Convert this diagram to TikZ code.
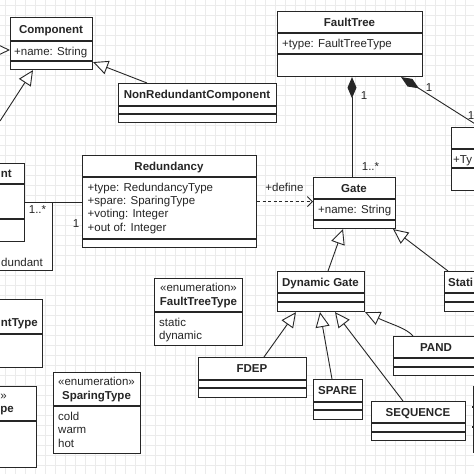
\documentclass[tikz,border=0pt]{standalone}
\usepackage{fontspec}
\setmainfont{Liberation Sans}
\usetikzlibrary{arrows.meta,calc}
\newcommand\fsz{\fontsize{11.5}{13}\selectfont}
\begin{document}
\begin{tikzpicture}[x=1pt,y=-1pt,
  gridline/.style={draw=black!8,line width=0.5pt},
  clsbox/.style={draw=black!85,line width=1.1pt,fill=white,inner sep=0,anchor=north west},
  divline/.style={draw=black!85,line width=1.1pt},
  txt/.style={inner sep=0,font=\fsz,anchor=base,text=black!85},
  txtw/.style={txt,anchor=base west},
  txte/.style={txt,anchor=base east},
  btxt/.style={txt,font=\fsz\bfseries},
  btxte/.style={btxte0,anchor=base east},
  btxte0/.style={inner sep=0,font=\fsz\bfseries,text=black!85},
  btxtw/.style={btxte0,anchor=base west},
  genarrow/.style={draw=black!85,line width=0.9pt,-{Triangle[length=15pt,width=14pt,fill=white]}},
  comparrow/.style={draw=black!85,line width=0.9pt,-{Diamond[length=21pt,width=9pt]}},
  deparrow/.style={draw=black!85,line width=0.9pt,dash pattern=on 3pt off 2.5pt,-{Straight Barb[length=5pt,width=10pt]}},
  assoc/.style={draw=black!85,line width=0.9pt}
]
\useasboundingbox (0,0) rectangle (474,474);
\clip (0,0) rectangle (474,474);
\fill[white] (0,0) rectangle (474,474);
\foreach \g in {5,15,...,475} {
  \draw[gridline] (\g,0) -- (\g,474);
  \draw[gridline] (0,\g) -- (474,\g);
}

% ---- boxes ----
\node[clsbox,minimum width=62pt,minimum height=68pt] (note) at (-10,202) {};
\node[txte] (tnote) at (43,266) {dundant};

\node[clsbox,minimum width=82pt,minimum height=52pt] (comp) at (10,17) {};
\draw[divline] (10,41) -- (92,41); \draw[divline] (10,61) -- (92,61);
\node[btxt] (tcomp) at (51,33) {Component};
\node[txtw] (tcompa) at (14,55) {+name: String};

\node[clsbox,minimum width=158pt,minimum height=39pt] (nrc) at (118,83) {};
\draw[divline] (118,106) -- (276,106); \draw[divline] (118,114) -- (276,114);
\node[btxt] (tnrc) at (197,98.5) {NonRedundantComponent};

\node[clsbox,minimum width=145pt,minimum height=65pt] (ft) at (277,11) {};
\draw[divline] (277,33) -- (422,33); \draw[divline] (277,54) -- (422,54);
\node[btxt] (tft) at (349.5,26) {FaultTree};
\node[txtw] (tfta) at (282,47) {+type: FaultTreeType};

\node[clsbox,minimum width=50pt,minimum height=63pt] (rb) at (451,127) {};
\draw[divline] (451,149) -- (501,149); \draw[divline] (451,168) -- (501,168);
\node[txtw] (trb) at (453,163) {+Ty};

\node[clsbox,minimum width=82pt,minimum height=51pt] (gate) at (313,177) {};
\draw[divline] (313,199) -- (395,199); \draw[divline] (313,220) -- (395,220);
\node[btxt] (tgate) at (354,192) {Gate};
\node[txtw] (tgatea) at (318,213) {+name: String};

\node[clsbox,minimum width=174pt,minimum height=92pt] (red) at (82,155) {};
\draw[divline] (82,177) -- (256,177); \draw[divline] (82,239) -- (256,239);
\node[btxt] (tred) at (169,170.5) {Redundancy};
\node[txtw] (tred1) at (87.5,191.3) {+type: RedundancyType};
\node[txtw] (tred2) at (87.5,204.7) {+spare: SparingType};
\node[txtw] (tred3) at (87.5,217.3) {+voting: Integer};
\node[txtw] (tred4) at (87.5,231.3) {+out of: Integer};

\node[clsbox,minimum width=34pt,minimum height=78pt] (leftcls) at (-10,163) {};
\draw[divline] (-10,184) -- (24,184); \draw[divline] (-10,219) -- (24,219);
\node[btxte] (tleft) at (12,177) {nt};

\node[clsbox,minimum width=52pt,minimum height=68pt] (nttype) at (-10,299) {};
\draw[divline] (-10,334) -- (42,334);
\node[btxte] (tnttype) at (38,326) {ntType};

\node[clsbox,minimum width=46pt,minimum height=81pt] (petype) at (-10,386) {};
\draw[divline] (-10,421) -- (36,421);
\node[txtw] (tpest) at (0.3,399) {»};
\node[btxte] (tpe) at (14,412) {pe};

\node[clsbox,minimum width=88pt,minimum height=67pt] (ftt) at (154,278) {};
\draw[divline] (154,312) -- (242,312);
\node[txt] (tftts) at (198.5,291) {«enumeration»};
\node[btxt] (tftt) at (198.5,305) {FaultTreeType};
\node[txtw] (tftt1) at (159,326) {static};
\node[txtw] (tftt2) at (159,339) {dynamic};

\node[clsbox,minimum width=87pt,minimum height=81pt] (spt) at (53,372) {};
\draw[divline] (53,406) -- (140,406);
\node[txt] (tspts) at (96.5,385) {«enumeration»};
\node[btxt] (tspt) at (96.5,399) {SparingType};
\node[txtw] (tspt1) at (58,420) {cold};
\node[txtw] (tspt2) at (58,433) {warm};
\node[txtw] (tspt3) at (58,447) {hot};

\node[clsbox,minimum width=87pt,minimum height=40pt] (dg) at (277,271) {};
\draw[divline] (277,293) -- (364,293); \draw[divline] (277,302) -- (364,302);
\node[btxt] (tdg) at (320.5,286) {Dynamic Gate};

\node[clsbox,minimum width=56pt,minimum height=40pt] (sg) at (444,271) {};
\draw[divline] (444,293) -- (500,293); \draw[divline] (444,302) -- (500,302);
\node[btxtw] (tsg) at (448,286) {Stati};

\node[clsbox,minimum width=86pt,minimum height=39pt] (pand) at (393,336) {};
\draw[divline] (393,358) -- (479,358); \draw[divline] (393,367) -- (479,367);
\node[btxt] (tpand) at (436,351) {PAND};

\node[clsbox,minimum width=108pt,minimum height=40pt] (fdep) at (198,357) {};
\draw[divline] (198,380) -- (306,380); \draw[divline] (198,388) -- (306,388);
\node[btxt] (tfdep) at (252,372) {FDEP};

\node[clsbox,minimum width=49pt,minimum height=40pt] (spare) at (313,379) {};
\draw[divline] (313,402) -- (362,402); \draw[divline] (313,410) -- (362,410);
\node[btxt] (tspare) at (337.5,394) {SPARE};

\node[clsbox,minimum width=94pt,minimum height=39pt] (seq) at (371,401) {};
\draw[divline] (371,423) -- (465,423); \draw[divline] (371,432) -- (465,432);
\node[btxt] (tseq) at (418,416) {SEQUENCE};

\node[clsbox,line width=1.6pt,minimum width=30pt,minimum height=65pt] (fr) at (472.5,386) {};
\draw[divline] (472,407) -- (502,407); \draw[divline] (472,427) -- (502,427);

% ---- connectors ----
\coordinate (g0) at (-20,50);
\draw[genarrow] (g0) -- (comp.west |- g0);
\coordinate (g1) at (0,121);
\draw[genarrow] (g1) -- ([xshift=23pt]comp.south west);
\draw[genarrow] ([xshift=29pt]nrc.north west) -- ([yshift=8pt]comp.south east);

\draw[comparrow] ([xshift=39pt]gate.north west) -- ([xshift=39pt]gate.north west |- ft.south);
\draw[comparrow] ([xshift=29pt]rb.north west) -- ([xshift=-22pt]ft.south east);

\draw[assoc] (leftcls.east) -- (leftcls.east -| red.west);
\draw[deparrow] (red.east) -- (red.east -| gate.west);

\draw[genarrow] ([xshift=51pt]dg.north west) -- ([xshift=30pt]gate.south west);
\draw[genarrow] ([xshift=4pt]sg.north west) -- ([xshift=-3pt]gate.south east);
\draw[genarrow] ([xshift=66pt]fdep.north west) -- ([xshift=19pt]dg.south west);
\draw[genarrow] ([xshift=19pt]spare.north west) -- ([xshift=43pt]dg.south west);
\draw[genarrow] ([xshift=32pt]seq.north west) -- ([xshift=58pt]dg.south west);
\draw[genarrow] ([xshift=20pt]pand.north west) .. controls ($(pand.north west)+(13,-8)$) and ($(dg.south east)+(28,13)$) .. (dg.south east);

% ---- labels ----
\node[txt] (m1) at (364,99) {1};
\node[txt] (m2) at (370.5,170) {1..*};
\node[txt] (m3) at (429,91) {1};
\node[txt] (m4) at (471,119) {1};
\node[txt] (m5) at (37.5,213) {1..*};
\node[txt] (m6) at (76,227) {1};
\node[txt] (ldef) at (284.5,191) {+define};
\end{tikzpicture}
\end{document}
